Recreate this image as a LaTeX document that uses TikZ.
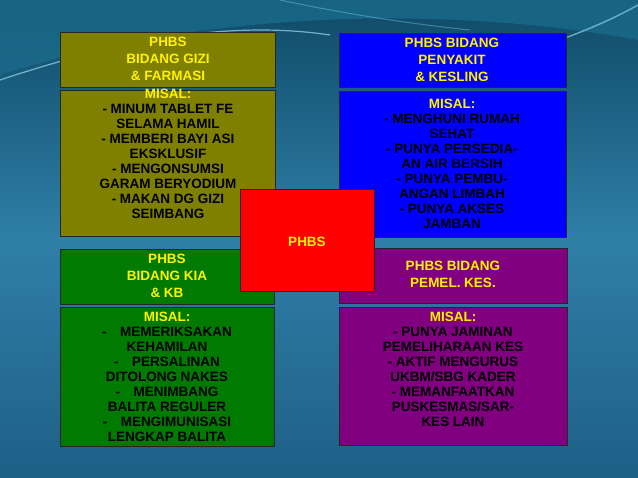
\documentclass[tikz,border=0pt]{standalone}
\usepackage{fontspec}
\setmainfont{Liberation Sans}
\definecolor{bgtop}{HTML}{0F4A66}
\definecolor{bgmid}{HTML}{2F7FA8}
\definecolor{bgbot}{HTML}{1E5F86}
\definecolor{wave}{HTML}{1A6A8A}
\definecolor{giz}{HTML}{808000}
\definecolor{pem}{HTML}{800080}
\definecolor{kia}{HTML}{007A00}
\begin{document}
\begin{tikzpicture}[x=1pt,y=-1pt,
  bx/.style={draw=black!85,line width=1pt},
  txt/.style={font=\bfseries\fontsize{13.5}{15}\selectfont,align=center,inner sep=0pt},
  hd/.style={txt,text=yellow,font=\bfseries\fontsize{13.5}{17}\selectfont}]
\useasboundingbox (0,0) rectangle (638,478);
\shade[top color=bgtop,bottom color=bgbot,middle color=bgmid] (0,0) rectangle (638,478);
\fill[wave,opacity=0.8] (0,0) -- (638,0) -- (638,40) .. controls (450,5) and (200,10) .. (0,75) -- cycle;
\draw[white!60!cyan,line width=1.2pt,opacity=0.7] (0,80) .. controls (120,40) and (230,20) .. (330,35);
\draw[white!60!cyan,line width=1.5pt,opacity=0.6] (560,40) .. controls (600,25) and (620,15) .. (638,5);
\draw[white!50!cyan,line width=1pt,opacity=0.4] (280,0) .. controls (350,15) and (420,25) .. (470,30);
% boxes
\fill[bx,fill=giz] (60,33) rectangle (275,88) coordinate (g1);
\fill[bx,fill=giz] (60,91) rectangle (275,237) coordinate (g2);
\fill[bx,fill=blue] (339,34) rectangle (566,88) coordinate (p1);
\fill[bx,fill=blue] (339,92) rectangle (566,238) coordinate (p2);
\fill[bx,fill=kia] (60,250) rectangle (274,305) coordinate (k1);
\fill[bx,fill=kia] (60,308) rectangle (274,447) coordinate (k2);
\fill[bx,fill=pem] (339,249) rectangle (567,304) coordinate (m1);
\fill[bx,fill=pem] (339,308) rectangle (567,446) coordinate (m2);
\fill[bx,fill=red] (240,190) rectangle (374,292) coordinate (r);
% texts
\node[hd,anchor=north] (tg1) at (168,37) {PHBS\\BIDANG GIZI\\\& FARMASI};
\node[txt,anchor=north] (tg2) at (168,89) {\textcolor{yellow}{MISAL:}\\- MINUM TABLET FE\\SELAMA HAMIL\\- MEMBERI BAYI ASI\\EKSKLUSIF\\- MENGONSUMSI\\GARAM BERYODIUM\\- MAKAN DG GIZI\\SEIMBANG};
\node[hd,anchor=north] (tp1) at (452,38) {PHBS BIDANG\\PENYAKIT\\\& KESLING};
\node[txt,anchor=north] (tp2) at (452,99) {\textcolor{yellow}{MISAL:}\\- MENGHUNI RUMAH\\SEHAT\\- PUNYA PERSEDIA-\\AN AIR BERSIH\\- PUNYA PEMBU-\\ANGAN LIMBAH\\- PUNYA AKSES\\JAMBAN};
\node[hd,anchor=north] (tk1) at (167,254) {PHBS\\BIDANG KIA\\\& KB};
\node[txt,anchor=north] (tk2) at (167,312) {\textcolor{yellow}{MISAL:}\\-\quad MEMERIKSAKAN\\KEHAMILAN\\-\quad PERSALINAN\\DITOLONG NAKES\\-\quad MENIMBANG\\BALITA REGULER\\-\quad MENGIMUNISASI\\LENGKAP BALITA};
\node[hd,anchor=north] (tm1) at (453,261) {PHBS BIDANG\\PEMEL. KES.};
\node[txt,anchor=north] (tm2) at (453,312) {\textcolor{yellow}{MISAL:}\\- PUNYA JAMINAN\\PEMELIHARAAN KES\\- AKTIF MENGURUS\\UKBM/SBG KADER\\- MEMANFAATKAN\\PUSKESMAS/SAR-\\KES LAIN};
\node[hd] (tr) at (307,242) {PHBS};
\end{tikzpicture}
\end{document}
